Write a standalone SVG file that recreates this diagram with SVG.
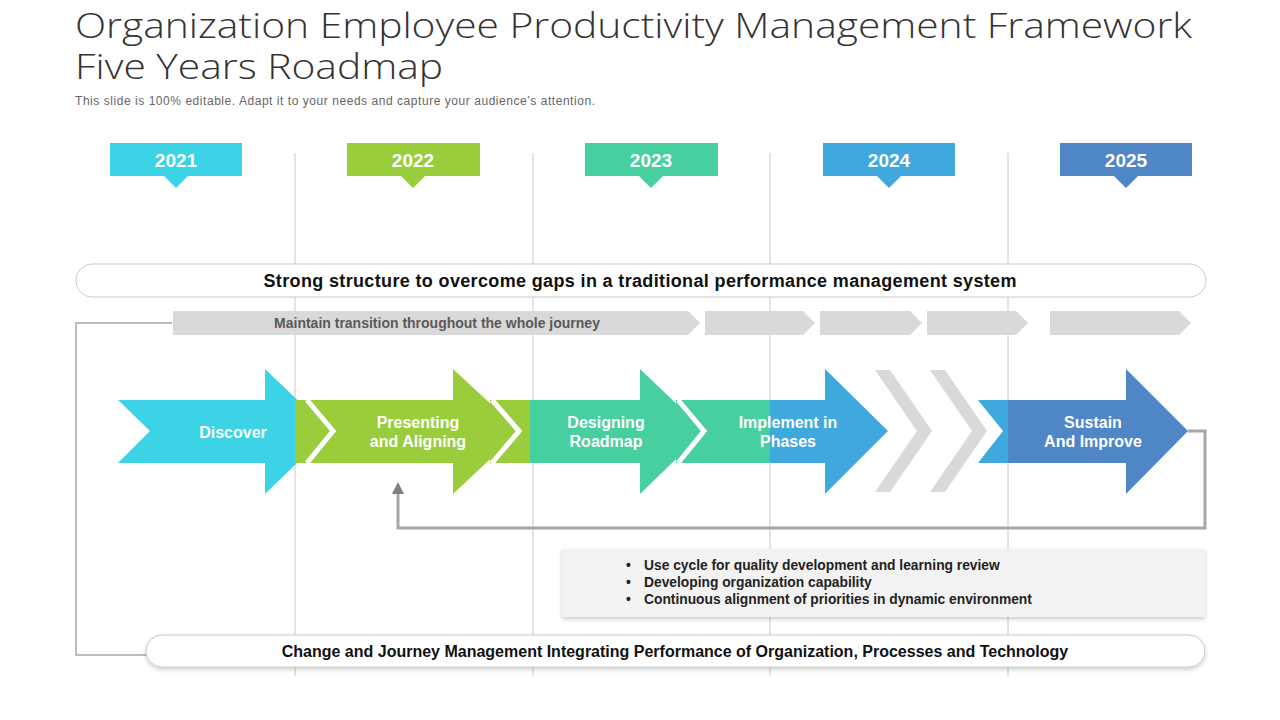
<svg xmlns="http://www.w3.org/2000/svg" width="1280" height="720" viewBox="0 0 1280 720">
<style>
.t{font-family:"Liberation Sans",Arial,sans-serif}
.title{font-family:"Open Sans","Liberation Sans",sans-serif;font-weight:300;font-size:35px;fill:#333}
.yr{font-family:"Liberation Sans",Arial,sans-serif;font-weight:bold;font-size:19px;fill:#fff;text-anchor:middle}
.lbl{font-family:"Liberation Sans",Arial,sans-serif;font-weight:bold;font-size:16px;fill:#fff;text-anchor:middle}
.vl{stroke:#c8c8c8;stroke-width:1}
.wc{fill:none;stroke:#fff;stroke-width:5}
.gb{fill:#D9D9D9}
</style>
<defs>
<marker id="ah" viewBox="0 0 10 10" refX="5" refY="5" markerWidth="4" markerHeight="4" orient="auto"><path d="M0,0L10,5L0,10z" fill="#7f7f7f"/></marker>
<filter id="sh" x="-5%" y="-20%" width="110%" height="150%"><feDropShadow dx="0" dy="2" stdDeviation="2" flood-color="#000" flood-opacity="0.2"/></filter>
</defs>
<rect width="1280" height="720" fill="#fff"/>
<text class="title" x="75" y="38" textLength="1117" lengthAdjust="spacingAndGlyphs">Organization Employee Productivity Management Framework</text>
<text class="title" x="75" y="79" textLength="368" lengthAdjust="spacingAndGlyphs">Five Years Roadmap</text>
<text class="t" x="75" y="105" font-size="12" fill="#666" textLength="520">This slide is 100% editable. Adapt it to your needs and capture your audience’s attention.</text>
<g id="gridlines">
<line class="vl" x1="295" y1="153" x2="295" y2="676"/>
<line class="vl" x1="533" y1="153" x2="533" y2="676"/>
<line class="vl" x1="770" y1="153" x2="770" y2="676"/>
<line class="vl" x1="1008" y1="153" x2="1008" y2="676"/>
</g>
<g id="years">
<g id="y2021"><path d="M110,143H242V176H188L176,188L164,176H110Z" fill="#3DD3E6"/><text class="yr" x="176" y="167">2021</text></g>
<g id="y2022"><path d="M347,143H480V176H425L413,188L401,176H347Z" fill="#9ACD3C"/><text class="yr" x="413" y="167">2022</text></g>
<g id="y2023"><path d="M585,143H718V176H663L651,188L639,176H585Z" fill="#48CFA0"/><text class="yr" x="651" y="167">2023</text></g>
<g id="y2024"><path d="M823,143H955V176H901L889,188L877,176H823Z" fill="#3FA9DE"/><text class="yr" x="889" y="167">2024</text></g>
<g id="y2025"><path d="M1060,143H1192V176H1138L1126,188L1114,176H1060Z" fill="#4F86C6"/><text class="yr" x="1126" y="167">2025</text></g>
</g>
<g id="banner-top">
<rect x="76" y="264" width="1130" height="33" rx="16.5" fill="#fff" stroke="#c8c8c8"/>
<text class="t" x="640" y="287" font-size="18" font-weight="bold" text-anchor="middle" fill="#111" textLength="753">Strong structure to overcome gaps in a traditional performance management system</text>
</g>
<g id="transition">
<path class="gb" d="M173,311H688L700,323L688,335H173Z"/>
<path class="gb" d="M705,311H803L815,323L803,335H705Z"/>
<path class="gb" d="M820,311H910L922,323L910,335H820Z"/>
<path class="gb" d="M927,311H1016L1028,323L1016,335H927Z"/>
<path class="gb" d="M1050,311H1179L1191,323L1179,335H1050Z"/>
<text class="t" x="437" y="328" font-size="14" font-weight="bold" text-anchor="middle" fill="#595959">Maintain transition throughout the whole journey</text>
</g>
<g id="connectors" fill="none" stroke-width="3">
<path d="M172,323H76V655H148" stroke="#a6a6a6" stroke-width="1.5"/>
<path d="M1188,431H1205V528H398V488" stroke="#a6a6a6" marker-end="url(#ah)"/>
</g>
<g id="discover">
<path d="M118,400H265V369L330,431L265,494V463H118L150,431Z" fill="#3DD3E6"/>
</g>
<g id="presenting">
<rect x="295" y="400" width="40" height="63" fill="#9ACD3C"/>
<path d="M307,400H453V369L520,431L453,494V463H307L333,431Z" fill="#9ACD3C"/>
<polyline class="wc" points="307,400 333,431 307,463"/>
<rect x="490" y="400" width="42" height="63" fill="#9ACD3C"/>
<polyline class="wc" points="492,400 519,431 492,463"/>
</g>
<g id="designing">
<path d="M530,400H640V369L705,431L640,494V463H530Z" fill="#48CFA0"/>
<rect x="676" y="400" width="94" height="63" fill="#48CFA0"/>
<polyline class="wc" points="678,400 704,431 678,463"/>
</g>
<g id="implement">
<path d="M770,400H825V369L888,431L825,494V463H770Z" fill="#3FA9DE"/>
</g>
<g id="chevrons">
<path d="M875,370H890L932,431L890,492H875L917,431Z" fill="#D9D9D9"/>
<path d="M930,370H945L987,431L945,492H930L972,431Z" fill="#D9D9D9"/>
</g>
<g id="sustain">
<path d="M978,400H1008V463H978L1003,431Z" fill="#3FA9DE"/>
<path d="M1008,400H1126V369L1188,431L1126,494V463H1008Z" fill="#4F86C6"/>
</g>
<g id="labels">
<text class="lbl" x="233" y="438">Discover</text>
<text class="lbl" x="418" y="428">Presenting</text><text class="lbl" x="418" y="447">and Aligning</text>
<text class="lbl" x="606" y="428">Designing</text><text class="lbl" x="606" y="447">Roadmap</text>
<text class="lbl" x="788" y="428">Implement in</text><text class="lbl" x="788" y="447">Phases</text>
<text class="lbl" x="1093" y="428">Sustain</text><text class="lbl" x="1093" y="447">And Improve</text>
</g>
<g id="bullets">
<rect x="562" y="549" width="643" height="68" fill="#F2F2F2" filter="url(#sh)"/>
<g class="t" font-size="13.8" font-weight="bold" fill="#222">
<text x="626" y="570">•</text><text x="644" y="570">Use cycle for quality development and learning review</text>
<text x="626" y="587">•</text><text x="644" y="587">Developing organization capability</text>
<text x="626" y="604">•</text><text x="644" y="604">Continuous alignment of priorities in dynamic environment</text>
</g>
</g>
<g id="banner-bottom">
<rect x="146" y="635" width="1059" height="32" rx="16" fill="#fff" stroke="#c8c8c8" filter="url(#sh)"/>
<text class="t" x="675" y="657" font-size="16" font-weight="bold" text-anchor="middle" fill="#111">Change and Journey Management Integrating Performance of Organization, Processes and Technology</text>
</g>
</svg>
